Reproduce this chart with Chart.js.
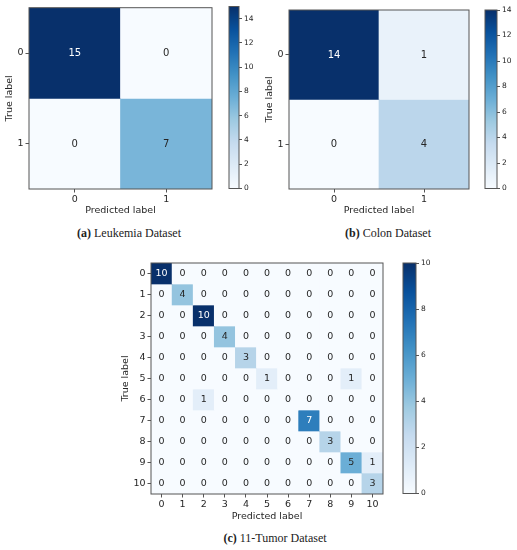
<!DOCTYPE html>
<html>
<head>
<meta charset="utf-8">
<script src="https://cdn.jsdelivr.net/npm/chart.js@4.4.1/dist/chart.umd.min.js"></script>
<style>
  body { margin: 0; background: #fff; width: 517px; height: 550px; position: relative; overflow: hidden; }
  canvas { position: absolute; }
  .cap { position: absolute; font-family: "Liberation Serif", "DejaVu Serif", serif; font-size: 12px; color: #222;
         white-space: nowrap; transform: translate(-50%, -50%); }
</style>
</head>
<body>
<canvas id="cmA" width="220" height="216" style="left:0;top:0"></canvas>
<canvas id="cbA" width="35" height="195" style="left:225px;top:0"></canvas>
<canvas id="cmB" width="212" height="216" style="left:260px;top:0"></canvas>
<canvas id="cbB" width="36" height="195" style="left:481px;top:0"></canvas>
<canvas id="cmC" width="274" height="272" style="left:116px;top:250px"></canvas>
<canvas id="cbC" width="40" height="250" style="left:399px;top:250px"></canvas>
<div class="cap" style="left:129px;top:233px"><b>(a)</b> Leukemia Dataset</div>
<div class="cap" style="left:388px;top:233px"><b>(b)</b> Colon Dataset</div>
<div class="cap" style="left:275px;top:538px"><b>(c)</b> 11-Tumor Dataset</div>
<script>
// confusion matrices, rows = true label, columns = predicted label
const leukemiaLabels = ['0', '1'];
const leukemiaMatrix = [
  [15, 0],
  [0, 7]
];
const leukemiaBarTicks = [0, 2, 4, 6, 8, 10, 12, 14];

const colonLabels = ['0', '1'];
const colonMatrix = [
  [14, 1],
  [0, 4]
];
const colonBarTicks = [0, 2, 4, 6, 8, 10, 12, 14];

const tumorLabels = ['0', '1', '2', '3', '4', '5', '6', '7', '8', '9', '10'];
const tumorMatrix = [
  [10, 0, 0, 0, 0, 0, 0, 0, 0, 0, 0],
  [0, 4, 0, 0, 0, 0, 0, 0, 0, 0, 0],
  [0, 0, 10, 0, 0, 0, 0, 0, 0, 0, 0],
  [0, 0, 0, 4, 0, 0, 0, 0, 0, 0, 0],
  [0, 0, 0, 0, 3, 0, 0, 0, 0, 0, 0],
  [0, 0, 0, 0, 0, 1, 0, 0, 0, 1, 0],
  [0, 0, 1, 0, 0, 0, 0, 0, 0, 0, 0],
  [0, 0, 0, 0, 0, 0, 0, 7, 0, 0, 0],
  [0, 0, 0, 0, 0, 0, 0, 0, 3, 0, 0],
  [0, 0, 0, 0, 0, 0, 0, 0, 0, 5, 1],
  [0, 0, 0, 0, 0, 0, 0, 0, 0, 0, 3]
];
const tumorBarTicks = [0, 2, 4, 6, 8, 10];

// matplotlib "Blues"
const BLUES = ['#f7fbff', '#deebf7', '#c6dbef', '#9ecae1', '#6baed6', '#4292c6', '#2171b5', '#08519c', '#08306b'];
const FONT = 'DejaVu Sans';
const INK = '#262626';
const EDGE = '#555';

function hex(h) { return [1, 3, 5].map(i => parseInt(h.substr(i, 2), 16)); }
function blues(t) {
  t = Math.max(0, Math.min(1, t));
  const f = t * (BLUES.length - 1), i = Math.min(Math.floor(f), BLUES.length - 2), k = f - i;
  const a = hex(BLUES[i]), b = hex(BLUES[i + 1]);
  const c = a.map((v, j) => Math.round(v + (b[j] - v) * k));
  return 'rgb(' + c.join(',') + ')';
}

const frame = {
  id: 'frame',
  afterDatasetsDraw(chart) {
    const { ctx, chartArea: a } = chart;
    ctx.save();
    ctx.strokeStyle = EDGE;
    ctx.lineWidth = 1;
    ctx.strokeRect(a.left, a.top, a.right - a.left, a.bottom - a.top);
    ctx.restore();
  }
};

const cellText = {
  id: 'cellText',
  afterDatasetsDraw(chart, args, opts) {
    const ctx = chart.ctx;
    ctx.save();
    ctx.font = opts.size + 'px "' + FONT + '"';
    ctx.textAlign = 'center';
    ctx.textBaseline = 'middle';
    chart.data.datasets.forEach((ds, r) => {
      chart.getDatasetMeta(r).data.forEach((bar, c) => {
        const v = opts.matrix[r][c];
        const p = bar.getCenterPoint();
        ctx.fillStyle = v > opts.vmax / 2 ? '#fff' : INK;
        ctx.fillText(String(v), p.x, p.y + 0.5);
      });
    });
    ctx.restore();
  }
};

function matrixChart(id, labels, matrix, size, pad, yWidth, xHeight) {
  const vmax = Math.max(...matrix.flat());
  return new Chart(document.getElementById(id), {
    type: 'bar',
    data: {
      labels: labels,
      datasets: matrix.map((row, r) => ({
        data: row.map(() => [r - 0.5, r + 0.5]),
        backgroundColor: row.map(v => blues(v / vmax)),
        borderWidth: 0,
        barPercentage: 1,
        categoryPercentage: 1,
        grouped: false
      }))
    },
    options: {
      responsive: false,
      animation: false,
      layout: { padding: pad },
      plugins: {
        legend: { display: false },
        tooltip: { enabled: false },
        cellText: { matrix: matrix, vmax: vmax, size: size }
      },
      scales: {
        x: {
          grid: { offset: false, drawOnChartArea: false, tickLength: 3.5, color: EDGE },
          border: { display: false },
          ticks: { color: INK, padding: 1, maxRotation: 0, font: { family: FONT, size: 9.5 } },
          title: { display: true, text: 'Predicted label', color: INK, padding: 0, font: { family: FONT, size: 9.5 } },
          afterFit: s => { s.height = xHeight; }
        },
        y: {
          min: -0.5,
          max: labels.length - 0.5,
          reverse: true,
          afterBuildTicks: s => { s.ticks = labels.map((l, i) => ({ value: i })); },
          grid: { drawOnChartArea: false, tickLength: 3.5, color: EDGE },
          border: { display: false },
          ticks: { color: INK, padding: 2, callback: (v, i) => labels[i], font: { family: FONT, size: 9.5 } },
          title: { display: true, text: 'True label', color: INK, font: { family: FONT, size: 9.5 } },
          afterFit: s => { s.width = yWidth; }
        }
      }
    },
    plugins: [frame, cellText]
  });
}

function colorbar(id, vmax, tickVals, pad, yWidth) {
  return new Chart(document.getElementById(id), {
    type: 'bar',
    data: {
      labels: [''],
      datasets: [{
        data: [[0, vmax]],
        borderWidth: 0,
        barPercentage: 1,
        categoryPercentage: 1,
        backgroundColor: ctx => {
          const ch = ctx.chart;
          if (!ch.chartArea) return BLUES[4];
          const y = ch.scales.y;
          const g = ch.ctx.createLinearGradient(0, y.getPixelForValue(0), 0, y.getPixelForValue(vmax));
          BLUES.forEach((c, i) => g.addColorStop(i / (BLUES.length - 1), c));
          return g;
        }
      }]
    },
    options: {
      responsive: false,
      animation: false,
      layout: { padding: pad },
      plugins: { legend: { display: false }, tooltip: { enabled: false } },
      scales: {
        x: { display: false },
        y: {
          position: 'right',
          min: 0,
          max: vmax,
          afterBuildTicks: s => { s.ticks = tickVals.map(v => ({ value: v })); },
          grid: { drawOnChartArea: false, tickLength: 3, color: EDGE },
          border: { display: false },
          ticks: { color: INK, padding: 2, font: { family: FONT, size: 7.5 } },
          afterFit: s => { s.width = yWidth; }
        }
      }
    },
    plugins: [frame]
  });
}

matrixChart('cmA', leukemiaLabels, leukemiaMatrix, 10, { top: 6, right: 8, left: 0, bottom: 0 }, 29, 27);
colorbar('cbA', Math.max(...leukemiaMatrix.flat()), leukemiaBarTicks, { top: 6, bottom: 6, left: 4, right: 0 }, 21);

matrixChart('cmB', colonLabels, colonMatrix, 10, { top: 10, right: 3, left: 0, bottom: 0 }, 29, 27);
colorbar('cbB', Math.max(...colonMatrix.flat()), colonBarTicks, { top: 10, bottom: 6, left: 4, right: 0 }, 20);

matrixChart('cmC', tumorLabels, tumorMatrix, 9.5, { top: 13, right: 7, left: 0, bottom: 0 }, 35, 28);
colorbar('cbC', Math.max(...tumorMatrix.flat()), tumorBarTicks, { top: 13, bottom: 6, left: 4, right: 0 }, 23);
</script>
</body>
</html>
